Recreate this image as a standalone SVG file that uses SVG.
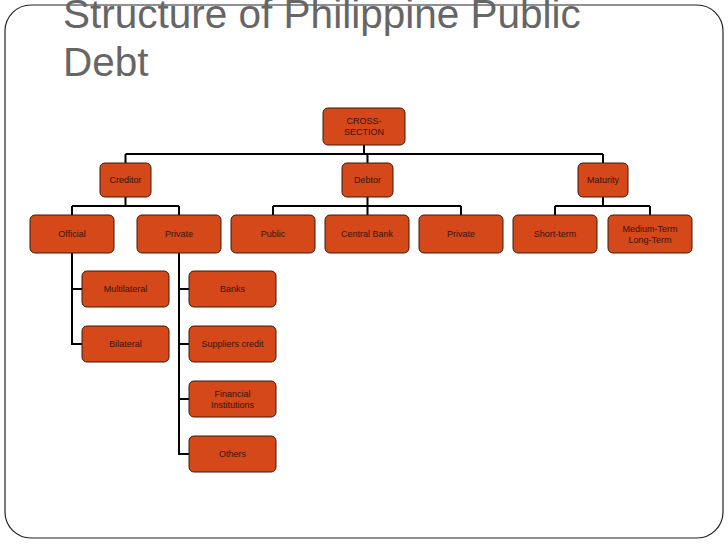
<svg xmlns="http://www.w3.org/2000/svg" width="728" height="546" viewBox="0 0 728 546">
<style>
.n{fill:#d4481a;stroke:#3a1a0a;stroke-width:1}
.t{font-family:"Liberation Sans",Arial,sans-serif;font-size:9px;fill:#3a1208;text-anchor:middle}
.c{fill:none;stroke:#000;stroke-width:2}
.ti{font-family:"Liberation Sans",Arial,sans-serif;font-size:40.5px;fill:#666}
</style>
<rect width="728" height="546" fill="#fff"/>
<rect x="5" y="5" width="718" height="533" rx="26" fill="none" stroke="#222" stroke-width="1.2"/>
<text class="ti" x="63" y="28">Structure of Philippine Public</text>
<text class="ti" x="63" y="76">Debt</text>
<g id="connectors" class="c">
<path d="M364 145V154M125.5 154H603M125.5 154V163M367.5 154V163M603 154V163"/>
<path d="M125.5 197V206M72 206H179M72 206V215M179 206V215"/>
<path d="M367.5 197V215M273 206H461M273 206V215M461 206V215"/>
<path d="M603 197V206M555 206H650M555 206V215M650 206V215"/>
<path d="M72 253V344H82M72 289H82"/>
<path d="M179 253V454H189M179 289H189M179 344H189M179 399H189"/>
</g>
<g id="root"><rect class="n" x="323" y="108" width="82" height="37" rx="5"/><text class="t" x="364" y="124">CROSS-</text><text class="t" x="364" y="135">SECTION</text></g>
<g id="creditor"><rect class="n" x="100" y="163" width="51" height="34" rx="5"/><text class="t" x="125.5" y="183">Creditor</text></g>
<g id="debtor"><rect class="n" x="342" y="163" width="51" height="34" rx="5"/><text class="t" x="367.5" y="183">Debtor</text></g>
<g id="maturity"><rect class="n" x="578" y="163" width="50" height="34" rx="5"/><text class="t" x="603" y="183">Maturity</text></g>
<g id="official"><rect class="n" x="30" y="215" width="84" height="38" rx="5"/><text class="t" x="72" y="237">Official</text></g>
<g id="private1"><rect class="n" x="137" y="215" width="84" height="38" rx="5"/><text class="t" x="179" y="237">Private</text></g>
<g id="public"><rect class="n" x="231" y="215" width="84" height="38" rx="5"/><text class="t" x="273" y="237">Public</text></g>
<g id="centralbank"><rect class="n" x="325" y="215" width="84" height="38" rx="5"/><text class="t" x="367" y="237">Central Bank</text></g>
<g id="private2"><rect class="n" x="419" y="215" width="84" height="38" rx="5"/><text class="t" x="461" y="237">Private</text></g>
<g id="shortterm"><rect class="n" x="513" y="215" width="84" height="38" rx="5"/><text class="t" x="555" y="237">Short-term</text></g>
<g id="mediumlong"><rect class="n" x="608" y="215" width="84" height="38" rx="5"/><text class="t" x="650" y="232">Medium-Term</text><text class="t" x="650" y="243">Long-Term</text></g>
<g id="multilateral"><rect class="n" x="82" y="271" width="87" height="36" rx="5"/><text class="t" x="125.5" y="292">Multilateral</text></g>
<g id="bilateral"><rect class="n" x="82" y="326" width="87" height="36" rx="5"/><text class="t" x="125.5" y="347">Bilateral</text></g>
<g id="banks"><rect class="n" x="189" y="271" width="87" height="36" rx="5"/><text class="t" x="232.5" y="292">Banks</text></g>
<g id="suppliers"><rect class="n" x="189" y="326" width="87" height="36" rx="5"/><text class="t" x="232.5" y="347">Suppliers credit</text></g>
<g id="financial"><rect class="n" x="189" y="381" width="87" height="36" rx="5"/><text class="t" x="232.5" y="397">Financial</text><text class="t" x="232.5" y="408">Institutions</text></g>
<g id="others"><rect class="n" x="189" y="436" width="87" height="36" rx="5"/><text class="t" x="232.5" y="457">Others</text></g>
</svg>
